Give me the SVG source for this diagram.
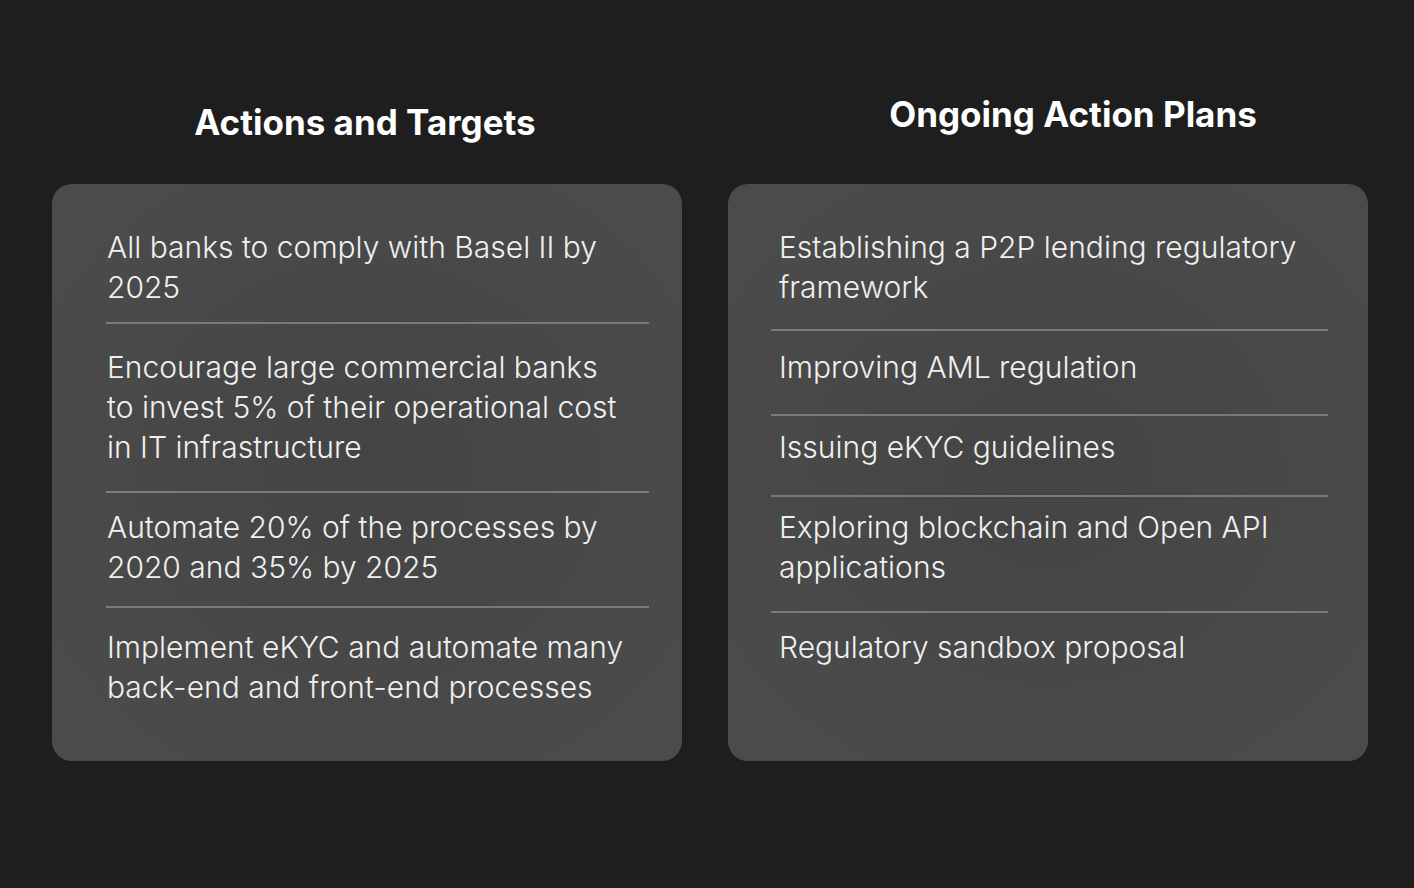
<svg xmlns="http://www.w3.org/2000/svg" width="1414" height="888" viewBox="0 0 1414 888">
<style>
.t{font-family:Inter,"Liberation Sans",sans-serif;font-weight:700;font-size:35px;fill:#fff;text-anchor:middle}
.b{font-family:Inter,"Liberation Sans",sans-serif;font-weight:300;font-size:30px;fill:#f0f0f0}
.d{stroke:#7a7a7a;stroke-width:2}
</style>
<defs>
<radialGradient id="g" cx="0.5" cy="0.5" r="0.6">
<stop offset="0" stop-color="#444"/><stop offset="1" stop-color="#4b4b4b"/>
</radialGradient>
</defs>
<rect width="1414" height="888" fill="#1e1e1e"/>
<text class="t" x="365" y="135">Actions and Targets</text>
<text class="t" x="1073" y="127">Ongoing Action Plans</text>
<g id="left">
<rect x="52" y="184" width="630" height="577" rx="20" fill="url(#g)"/>
<text class="b" x="107" y="258">All banks to comply with Basel II by</text>
<text class="b" x="107" y="298">2025</text>
<line class="d" x1="106" y1="323" x2="649" y2="323"/>
<text class="b" x="107" y="378">Encourage large commercial banks</text>
<text class="b" x="107" y="418">to invest 5% of their operational cost</text>
<text class="b" x="107" y="458">in IT infrastructure</text>
<line class="d" x1="106" y1="492" x2="649" y2="492"/>
<text class="b" x="107" y="538">Automate 20% of the processes by</text>
<text class="b" x="107" y="578">2020 and 35% by 2025</text>
<line class="d" x1="106" y1="607" x2="649" y2="607"/>
<text class="b" x="107" y="658">Implement eKYC and automate many</text>
<text class="b" x="107" y="698">back-end and front-end processes</text>
</g>
<g id="right">
<rect x="728" y="184" width="640" height="577" rx="20" fill="url(#g)"/>
<text class="b" x="779" y="258">Establishing a P2P lending regulatory</text>
<text class="b" x="779" y="298">framework</text>
<line class="d" x1="771" y1="330" x2="1328" y2="330"/>
<text class="b" x="779" y="378">Improving AML regulation</text>
<line class="d" x1="771" y1="415" x2="1328" y2="415"/>
<text class="b" x="779" y="458">Issuing eKYC guidelines</text>
<line class="d" x1="771" y1="496" x2="1328" y2="496"/>
<text class="b" x="779" y="538">Exploring blockchain and Open API</text>
<text class="b" x="779" y="578">applications</text>
<line class="d" x1="771" y1="612" x2="1328" y2="612"/>
<text class="b" x="779" y="658">Regulatory sandbox proposal</text>
</g>
<g id="connectors"/>
</svg>
